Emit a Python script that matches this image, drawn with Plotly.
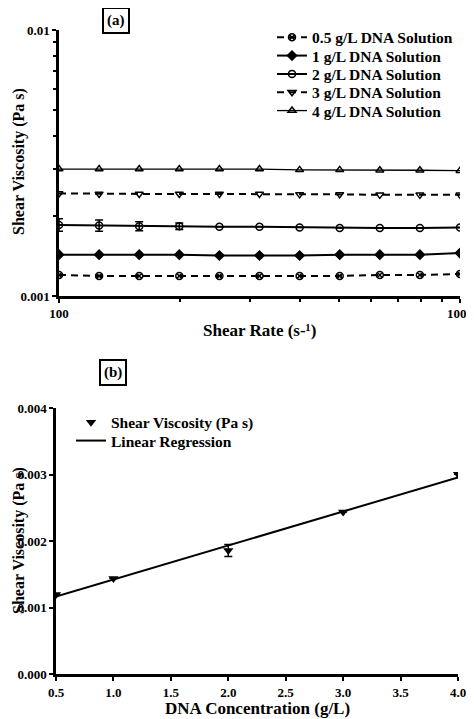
import plotly.graph_objects as go

# panel (a): shear viscosity vs shear rate
shear_rate = [100, 125.9, 158.5, 199.5, 251.2, 316.2, 398.1, 501.2, 631.0, 794.3, 1000]
visc_05 = [0.00120, 0.00119, 0.00119, 0.00119, 0.00119, 0.00119, 0.00119, 0.00119, 0.00120, 0.00120, 0.00121]
visc_1 = [0.00143, 0.00143, 0.00143, 0.00143, 0.00142, 0.00142, 0.00142, 0.00143, 0.00143, 0.00143, 0.00145]
visc_2 = [0.00185, 0.00184, 0.00183, 0.00183, 0.00182, 0.00182, 0.00181, 0.00180, 0.00180, 0.00180, 0.00181]
err_2 = [0.00010, 0.00009, 0.00007, 0.00005, 0, 0, 0, 0, 0, 0, 0]
visc_3 = [0.00243, 0.00242, 0.00242, 0.00242, 0.00242, 0.00242, 0.00241, 0.00241, 0.00240, 0.00240, 0.00240]
visc_4 = [0.00300, 0.00300, 0.00300, 0.00300, 0.00300, 0.00300, 0.00298, 0.00298, 0.00297, 0.00297, 0.00296]

# panel (b): viscosity vs concentration
conc = [0.5, 1.0, 2.0, 3.0, 4.0]
conc_visc = [0.00120, 0.00144, 0.00186, 0.00244, 0.00301]
conc_err = [0, 0, 0.00009, 0, 0]
reg_x = [0.5, 4.0]
reg_y = [0.00117, 0.00296]

# the page body has an 8px margin, so the figure is made smaller and
# positions below are given in page pixels and shifted back by 8
OFF = 8
W, H = 474 - 2 * OFF, 719 - OFF
FONT = "Liberation Serif"

def px_x(p):
    return (p - OFF) / W

def px_y(p):
    return 1 - (p - OFF) / H

fig = go.Figure()

series = [
    ("0.5 g/L DNA Solution", visc_05, "circle-x-open", "dash", 2, "legend"),
    ("1 g/L DNA Solution", visc_1, "diamond", "solid", 2, "legend2"),
    ("2 g/L DNA Solution", visc_2, "circle-open", "solid", 2, "legend3"),
    ("3 g/L DNA Solution", visc_3, "triangle-down-open", "dash", 2, "legend4"),
    ("4 g/L DNA Solution", visc_4, "triangle-up-open", "solid", 1.3, "legend5"),
]
for name, vals, sym, dash, lw, lg in series:
    err = None
    if vals is visc_2:
        err = dict(type="data", array=err_2, color="black", thickness=1.5, width=4)
    fig.add_trace(go.Scatter(
        x=shear_rate, y=vals, name=name, mode="lines+markers", showlegend=True,
        line=dict(color="black", width=lw, dash="7px,5px" if dash == "dash" else "solid"),
        marker=dict(symbol=sym, size=7, color="black", line=dict(color="black", width=1.5)),
        error_y=err, xaxis="x", yaxis="y", legend=lg))

fig.add_trace(go.Scatter(
    x=conc, y=conc_visc, name="Shear Viscosity (Pa s)", mode="markers", showlegend=True,
    marker=dict(symbol="triangle-down", size=9, color="black"),
    error_y=dict(type="data", array=conc_err, color="black", thickness=1.5, width=4),
    xaxis="x2", yaxis="y2", legend="legend6"))
fig.add_trace(go.Scatter(
    x=reg_x, y=reg_y, name="Linear Regression", mode="lines", showlegend=True,
    line=dict(color="black", width=2),
    xaxis="x2", yaxis="y2", legend="legend7"))

tickfont = dict(family=FONT, size=13, color="black", weight="bold")
axis_common = dict(showline=True, linewidth=2.5, linecolor="black", ticks="outside",
                   ticklen=4, tickwidth=2, tickcolor="black", showgrid=False,
                   zeroline=False, tickfont=tickfont, automargin=False,
                   ticklabeloverflow="allow")

fig.update_layout(
    width=W, height=H, showlegend=True,
    margin=dict(l=0, r=0, t=0, b=0, pad=0, autoexpand=False),
    paper_bgcolor="white", plot_bgcolor="white",
    xaxis=dict(type="log", domain=[px_x(59), px_x(460)], range=[2, 3], anchor="y",
               tickvals=[100, 1000], ticktext=["100", "1000"],
               minor=dict(tickvals=[200, 300, 400, 500, 600, 700, 800, 900],
                          ticks="outside", ticklen=3, tickwidth=1.5, tickcolor="black"),
               **axis_common),
    yaxis=dict(type="log", domain=[px_y(296), px_y(30)], range=[-3, -2], anchor="x",
               tickvals=[0.001, 0.01], ticktext=["0.001", "0.01"],
               minor=dict(tickvals=[0.002, 0.003, 0.004, 0.005, 0.006, 0.007, 0.008, 0.009],
                          ticks="outside", ticklen=3, tickwidth=1.5, tickcolor="black"),
               **axis_common),
    xaxis2=dict(domain=[px_x(56), px_x(458)], range=[0.5, 4.0], anchor="y2",
                dtick=0.5, tick0=0.5, tickformat=".1f", **axis_common),
    yaxis2=dict(domain=[px_y(674.3), px_y(408.3)], range=[0, 0.004], anchor="x2",
                dtick=0.001, tickformat=".3f", **axis_common),
)

leg_font = dict(family=FONT, size=15.5, color="black", weight="bold")
top_rows = [37.7, 56, 74.3, 92.7, 111]
names = ["legend", "legend2", "legend3", "legend4", "legend5"]
for nm, yc in zip(names, top_rows):
    fig.update_layout({nm: dict(x=px_x(272), y=px_y(yc), xanchor="left", yanchor="middle",
                                font=leg_font, bgcolor="rgba(0,0,0,0)", itemwidth=30)})
for nm, yc in zip(["legend6", "legend7"], [422.7, 441]):
    fig.update_layout({nm: dict(x=px_x(71), y=px_y(yc), xanchor="left", yanchor="middle",
                                font=leg_font, bgcolor="rgba(0,0,0,0)", itemwidth=30)})

title_font = dict(family=FONT, size=17, color="black", weight="bold")
ytitle_font = dict(family=FONT, size=16, color="black", weight="bold")
annots = [
    dict(text="Shear Rate (s-¹)", x=px_x(260), y=px_y(330), font=title_font),
    dict(text="Shear Viscosity (Pa s)", x=px_x(19), y=px_y(162), textangle=-90,
         font=ytitle_font),
    dict(text="DNA Concentration (g/L)", x=px_x(257), y=px_y(708.5), font=title_font),
    dict(text="Shear Viscosity (Pa s)", x=px_x(19), y=px_y(541), textangle=-90,
         font=ytitle_font),
]
for a in annots:
    fig.add_annotation(xref="paper", yref="paper", showarrow=False,
                       xanchor="center", yanchor="middle", **a)

for lab, xc, yc in [("(a)", 116, 21), ("(b)", 113, 372)]:
    fig.add_annotation(text=lab, xref="paper", yref="paper", x=px_x(xc), y=px_y(yc),
                       showarrow=False, xanchor="center", yanchor="middle",
                       font=dict(family=FONT, size=15, color="black", weight="bold"),
                       bordercolor="black", borderwidth=2, borderpad=3, bgcolor="white")

fig.write_html("out.html")
